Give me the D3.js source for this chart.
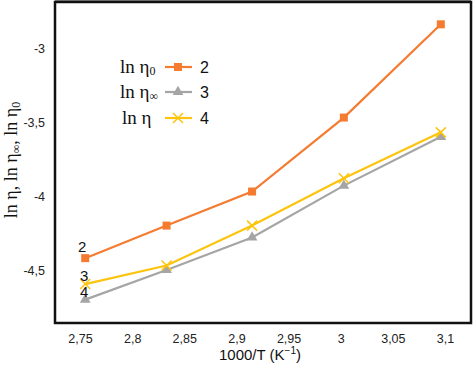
<!DOCTYPE html>
<html>
<head>
<meta charset="utf-8">
<script src="https://cdn.jsdelivr.net/npm/d3@7"></script>
<style>
  body { margin: 0; background: #fff; }
  svg { display: block; }
</style>
</head>
<body>
<div id="app"></div>
<script>
const xValues = [2.755, 2.833, 2.915, 3.003, 3.096]
const lnEta0 = [-4.42, -4.20, -3.97, -3.47, -2.84]
const lnEtaInf = [-4.70, -4.50, -4.28, -3.93, -3.60]
const lnEta = [-4.595, -4.47, -4.20, -3.88, -3.57]
const xTicks = [2.75, 2.8, 2.85, 2.9, 2.95, 3, 3.05, 3.1]
const yTicks = [-4.5, -4, -3.5, -3]
const seriesNames = ['2', '3', '4']

const W = 474, H = 366
const frameL = 55, frameR = 471, frameT = 2, frameB = 323

const svg = d3.select('#app').append('svg')
  .attr('width', W)
  .attr('height', H)

const x = d3.scaleLinear().domain([2.75, 3.1]).range([80, 445])
const y = d3.scaleLinear().domain([-4.5, -3]).range([270, 48])

const fmt = d => String(d).replace('.', ',')
const sansFont = 'Liberation Sans, Arial, sans-serif'
const serif = 'Liberation Serif, Times New Roman, serif'

// axis tick labels (no tick marks in the original)
const xAxis = svg.append('g')
  .attr('transform', `translate(0,${frameB})`)
  .call(d3.axisBottom(x).tickValues(xTicks).tickFormat(fmt).tickSize(0).tickPadding(11))
xAxis.select('.domain').remove()
xAxis.selectAll('text').attr('font-family', sansFont).attr('font-size', 12.5).attr('fill', '#222')

const yAxis = svg.append('g')
  .attr('transform', `translate(${frameL},0)`)
  .call(d3.axisLeft(y).tickValues(yTicks).tickFormat(fmt).tickSize(0).tickPadding(10))
yAxis.select('.domain').remove()
yAxis.selectAll('text').attr('font-family', sansFont).attr('font-size', 12.5).attr('fill', '#222')

// frame
svg.append('line').attr('x1', frameL).attr('x2', frameR).attr('y1', frameT - 0.5).attr('y2', frameT - 0.5)
  .attr('stroke', '#888').attr('stroke-width', 3)
svg.append('rect')
  .attr('x', frameL).attr('y', frameT)
  .attr('width', frameR - frameL).attr('height', frameB - frameT)
  .attr('fill', 'none').attr('stroke', '#111').attr('stroke-width', 2.5)

const series = [
  { name: '2', values: lnEta0, color: '#f47b30', marker: 'square' },
  { name: '3', values: lnEtaInf, color: '#a5a5a5', marker: 'triangle' },
  { name: '4', values: lnEta, color: '#fcc40c', marker: 'cross' }
]

const line = d3.line()
  .x((d, i) => x(xValues[i]))
  .y(d => y(d))

function drawMarker(g, type, color, cx, cy) {
  if (type === 'square') {
    g.append('rect').attr('x', cx - 4).attr('y', cy - 4).attr('width', 8).attr('height', 8).attr('fill', color)
  } else if (type === 'triangle') {
    g.append('path').attr('d', d3.symbol(d3.symbolTriangle, 50)()).attr('transform', `translate(${cx},${cy})`).attr('fill', color)
  } else {
    g.append('path').attr('d', `M${cx - 5},${cy - 5}L${cx + 5},${cy + 5}M${cx - 5},${cy + 5}L${cx + 5},${cy - 5}`)
      .attr('stroke', color).attr('stroke-width', 1.5)
  }
}

// gray first, then orange, then yellow on top
const order = [1, 0, 2]
order.forEach(k => {
  const s = series[k]
  const g = svg.append('g')
  g.append('path').datum(s.values).attr('d', line)
    .attr('fill', 'none').attr('stroke', s.color).attr('stroke-width', 2.2)
  s.values.forEach((v, i) => drawMarker(g, s.marker, s.color, x(xValues[i]), y(v)))
})

// labels near the first points
svg.append('text').attr('x', x(xValues[0]) - 3).attr('y', y(lnEta0[0]) - 6).text(seriesNames[0])
  .attr('font-family', sansFont).attr('font-size', 15).attr('text-anchor', 'middle').attr('fill', '#111')
svg.append('text').attr('x', x(xValues[0]) - 1).attr('y', y(lnEta[0]) - 3).text(seriesNames[1])
  .attr('font-family', sansFont).attr('font-size', 15).attr('text-anchor', 'middle').attr('fill', '#111')
svg.append('text').attr('x', x(xValues[0]) - 1).attr('y', y(lnEtaInf[0]) - 3).text(seriesNames[2])
  .attr('font-family', sansFont).attr('font-size', 15).attr('text-anchor', 'middle').attr('fill', '#111')

// legend
const legend = [
  { main: 'ln η', sub: '0', s: series[0], yy: 67, tx: 120 },
  { main: 'ln η', sub: '∞', s: series[1], yy: 92, tx: 120 },
  { main: 'ln η', sub: '', s: series[2], yy: 118, tx: 122 }
]
legend.forEach(L => {
  const t = svg.append('text').attr('x', L.tx).attr('y', L.yy + 6)
    .attr('font-family', serif).attr('font-size', 19).attr('fill', '#111')
  t.append('tspan').text(L.main)
  if (L.sub) t.append('tspan').text(L.sub).attr('font-size', 12).attr('dy', 2)
  const g = svg.append('g')
  g.append('line').attr('x1', 165).attr('x2', 192).attr('y1', L.yy).attr('y2', L.yy)
    .attr('stroke', L.s.color).attr('stroke-width', 2.2)
  drawMarker(g, L.s.marker, L.s.color, 178, L.yy)
  svg.append('text').attr('x', 200).attr('y', L.yy + 6).text(L.s.name)
    .attr('font-family', sansFont).attr('font-size', 16).attr('fill', '#111')
})

// axis titles
svg.append('text').attr('x', 260).attr('y', 360).attr('text-anchor', 'middle')
  .attr('font-family', sansFont).attr('font-size', 15).attr('fill', '#111')
  .call(t => {
    t.append('tspan').text('1000/T (K')
    t.append('tspan').text('−1').attr('font-size', 10).attr('dy', -6)
    t.append('tspan').text(')').attr('dy', 6)
  })

const yt = svg.append('text').attr('transform', 'translate(17,160) rotate(-90)').attr('text-anchor', 'middle')
  .attr('font-family', serif).attr('font-size', 18).attr('fill', '#111')
yt.append('tspan').text('ln η, ln η')
yt.append('tspan').text('∞').attr('font-size', 12).attr('dy', 3)
yt.append('tspan').text(', ln η').attr('dy', -3)
yt.append('tspan').text('0').attr('font-size', 12).attr('dy', 3)
</script>
</body>
</html>
